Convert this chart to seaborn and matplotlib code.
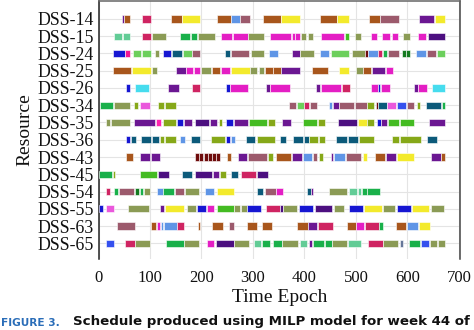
import matplotlib
matplotlib.use("Agg")
import matplotlib.pyplot as plt
import seaborn as sns
import pandas as pd

# Resources (antennas), listed top to bottom
resources = ["DSS-14", "DSS-15", "DSS-24", "DSS-25", "DSS-26", "DSS-34", "DSS-35",
             "DSS-36", "DSS-43", "DSS-45", "DSS-54", "DSS-55", "DSS-63", "DSS-65"]

# Scheduled tracks per resource: (start epoch, end epoch, mission)
dss_14 = [(46, 50, "purple"), (50, 61, "brown"), (85, 102, "crimson"), (141, 163, "brown"),
          (163, 198, "yellow"), (231, 258, "brown"), (258, 275, "cornflower"),
          (275, 294, "mauve"), (320, 355, "brown"), (355, 391, "yellow"), (430, 463, "brown"),
          (463, 487, "yellow"), (525, 547, "brown"), (547, 584, "mauve"), (623, 652, "purple"),
          (654, 673, "yellow")]
dss_15 = [(31, 46, "mint"), (47, 62, "mint"), (85, 101, "crimson"), (103, 131, "olive"),
          (159, 178, "green"), (179, 191, "green"), (194, 227, "olive"), (237, 260, "magenta"),
          (262, 290, "magenta"), (290, 321, "olive"), (334, 373, "magenta"), (375, 381, "magenta"),
          (382, 391, "magenta"), (393, 402, "olive"), (406, 417, "olive"), (432, 477, "magenta"),
          (478, 487, "green2"), (498, 509, "olive"), (529, 540, "magenta"), (550, 566, "magenta"),
          (569, 581, "magenta"), (592, 605, "olive"), (621, 636, "magenta"), (639, 673, "indigo")]
dss_24 = [(28, 52, "blue"), (52, 62, "pink"), (67, 83, "lightgreen"), (85, 101, "lightgreen"),
          (109, 117, "olive"), (126, 141, "blue"), (143, 163, "teal"), (165, 182, "lightgreen"),
          (182, 197, "mauve"), (246, 255, "teal"), (257, 292, "mauve"), (297, 321, "olive"),
          (332, 349, "cornflower"), (375, 391, "purple"), (391, 419, "olive"), (430, 448, "cornflower"),
          (452, 487, "lightgreen"), (493, 517, "olive"), (517, 524, "darkred"), (524, 543, "cornflower"),
          (543, 550, "crimson"), (552, 561, "green"), (562, 584, "mauve"), (590, 597, "darkgreen"),
          (598, 605, "darkgreen"), (616, 636, "cornflower"), (637, 655, "mauve"), (657, 673, "lightgreen")]
dss_25 = [(28, 63, "brown"), (65, 101, "yellow"), (103, 113, "olive"), (150, 169, "purple"),
          (170, 184, "magenta"), (185, 198, "magenta"), (200, 219, "olive"), (221, 236, "brown"),
          (237, 255, "magenta"), (257, 294, "yellow"), (295, 307, "olive"), (312, 321, "olive"),
          (323, 338, "brown"), (339, 354, "brown"), (355, 391, "purple"), (414, 445, "brown"),
          (467, 487, "yellow"), (501, 513, "olive"), (513, 529, "brown"), (532, 557, "purple"),
          (559, 572, "magenta")]
dss_26 = [(54, 61, "blue"), (70, 98, "cyan"), (135, 156, "purple"), (182, 197, "crimson"),
          (247, 255, "blue"), (255, 290, "magenta"), (326, 334, "purple"), (334, 372, "magenta"),
          (422, 430, "purple"), (432, 470, "magenta"), (472, 489, "crimson"), (529, 542, "magenta"),
          (542, 547, "blue"), (548, 566, "magenta"), (612, 620, "purple"), (621, 637, "magenta"),
          (647, 673, "cyan")]
dss_34 = [(2, 28, "green"), (31, 61, "olive"), (69, 77, "yellowgreen"), (80, 100, "orchid"),
          (116, 128, "yellowgreen"), (130, 150, "yellowgreen"), (370, 383, "mauve"),
          (385, 399, "lightgreen"), (400, 409, "crimson"), (411, 424, "mauve"), (448, 454, "cornflower"),
          (456, 467, "purple"), (467, 496, "mauve"), (498, 521, "mauve"), (522, 535, "yellowgreen"),
          (538, 543, "darkred"), (543, 560, "teal"), (561, 577, "orchid"), (579, 597, "royalblue"),
          (600, 613, "mauve"), (618, 625, "yellowgreen"), (636, 666, "teal"), (668, 673, "green")]
dss_35 = [(14, 23, "olive"), (25, 61, "olive"), (69, 109, "purple"), (111, 122, "deeppink"),
          (126, 150, "yellowgreen"), (152, 165, "blue"), (167, 182, "purple"), (187, 214, "indigo"),
          (216, 231, "purple"), (234, 239, "yellowgreen"), (247, 262, "blue"), (264, 290, "purple"),
          (292, 328, "green2"), (329, 342, "yellowgreen"), (357, 373, "purple"), (398, 424, "green2"),
          (426, 439, "yellowgreen"), (465, 502, "indigo"), (503, 521, "yellow"), (522, 535, "yellowgreen"),
          (540, 548, "blue"), (548, 561, "purple"), (562, 584, "green2"), (585, 613, "green2"),
          (642, 673, "purple")]
dss_36 = [(54, 61, "blue"), (64, 72, "teal"), (82, 101, "teal"), (103, 117, "teal"),
          (119, 128, "yellowgreen"), (130, 150, "yellowgreen"), (159, 168, "cornflower"),
          (179, 197, "teal"), (218, 245, "yellowgreen"), (247, 255, "blue"), (258, 266, "cornflower"),
          (286, 304, "teal"), (308, 342, "yellowgreen"), (352, 365, "teal"), (377, 398, "teal"),
          (399, 409, "teal"), (409, 426, "yellowgreen"), (428, 439, "yellowgreen"), (461, 482, "teal"),
          (484, 504, "teal"), (506, 535, "yellowgreen"), (569, 583, "yellowgreen"),
          (585, 626, "yellowgreen"), (638, 657, "teal")]
dss_43 = [(54, 67, "brown"), (80, 100, "purple"), (101, 119, "purple"), (187, 195, "darkred"),
          (196, 203, "darkred"), (204, 212, "darkred"), (213, 220, "darkred"), (221, 228, "darkred"),
          (229, 236, "darkred"), (249, 258, "brown"), (270, 289, "purple"), (290, 328, "mauve"),
          (329, 338, "yellowgreen"), (344, 373, "brown"), (375, 396, "purple"), (398, 415, "cornflower"),
          (417, 424, "mauve"), (428, 435, "yellowgreen"), (451, 456, "purple"), (457, 478, "cornflower"),
          (480, 509, "mauve"), (513, 521, "yellow"), (537, 557, "brown"), (558, 577, "purple"),
          (579, 613, "yellow"), (645, 665, "purple"), (666, 673, "brown")]
dss_45 = [(1, 26, "green"), (28, 33, "yellowgreen"), (80, 113, "green2"), (115, 137, "indigo"),
          (163, 182, "teal"), (187, 221, "indigo"), (222, 234, "purple"), (235, 247, "yellowgreen"),
          (257, 271, "teal"), (277, 305, "crimson"), (307, 329, "indigo")]
dss_54 = [(15, 23, "crimson"), (30, 37, "green"), (39, 69, "mauve"), (70, 78, "darkgreen"),
          (80, 87, "green"), (88, 100, "olive"), (114, 126, "cornflower"), (126, 146, "green"),
          (148, 166, "mauve"), (168, 195, "olive"), (207, 224, "cornflower"), (231, 263, "yellow"),
          (307, 320, "teal"), (323, 344, "mauve"), (345, 359, "magenta"), (404, 412, "teal"),
          (412, 417, "purple"), (448, 482, "olive"), (487, 502, "mint"), (503, 509, "mint"),
          (511, 521, "green"), (522, 547, "green")]
dss_55 = [(1, 9, "blue"), (14, 31, "orchid"), (58, 98, "olive"), (119, 128, "purple"),
          (130, 166, "yellow"), (172, 189, "olive"), (192, 208, "blue"), (210, 225, "magenta"),
          (231, 263, "green2"), (264, 275, "olive"), (276, 288, "olive"), (289, 316, "blue"),
          (325, 352, "crimson"), (352, 359, "indigo"), (359, 386, "olive"), (389, 417, "blue"),
          (420, 454, "indigo"), (457, 477, "olive"), (487, 513, "blue"), (516, 550, "yellow"),
          (553, 575, "olive"), (579, 607, "blue"), (609, 642, "yellow"), (645, 671, "olive")]
dss_63 = [(35, 70, "mauve"), (102, 111, "brown"), (113, 120, "magenta"), (122, 126, "cornflower"),
          (127, 152, "cornflower"), (152, 167, "crimson"), (193, 198, "brown"), (221, 241, "brown"),
          (253, 263, "mauve"), (289, 307, "brown"), (317, 336, "brown"), (385, 406, "brown"),
          (406, 425, "purple"), (426, 456, "crimson"), (482, 500, "brown"), (501, 516, "magenta"),
          (517, 544, "crimson"), (545, 552, "green"), (577, 597, "brown"), (599, 620, "cornflower"),
          (623, 644, "yellow")]
dss_65 = [(14, 31, "royalblue"), (52, 70, "crimson"), (70, 100, "olive"), (132, 167, "green"),
          (167, 195, "olive"), (210, 225, "magenta"), (229, 263, "indigo"), (264, 292, "olive"),
          (301, 316, "mint"), (318, 334, "green"), (338, 357, "green"), (357, 388, "olive"),
          (391, 404, "mint"), (408, 415, "purple"), (417, 437, "green"), (439, 454, "green"),
          (454, 482, "olive"), (485, 509, "mint"), (524, 552, "crimson"), (553, 581, "olive"),
          (585, 592, "slate"), (603, 625, "green"), (626, 642, "royalblue"), (644, 658, "olive"),
          (660, 673, "olive")]

tracks = [dss_14, dss_15, dss_24, dss_25, dss_26, dss_34, dss_35,
          dss_36, dss_43, dss_45, dss_54, dss_55, dss_63, dss_65]

# Colour of each mission
mission_colors = {
    "purple": "#6b1792", "indigo": "#4c0f80", "brown": "#a8561c", "crimson": "#cf2462",
    "yellow": "#f3ea2c", "cornflower": "#5f95e6", "mauve": "#9c5a6c", "mint": "#62cc96",
    "olive": "#8b9b55", "green": "#19b04a", "green2": "#44bb22", "magenta": "#e41ec4",
    "pink": "#f01596", "blue": "#1616d2", "lightgreen": "#6ccf5c", "yellowgreen": "#86a818",
    "teal": "#0c5a7a", "darkred": "#6e0c0c", "darkgreen": "#147a20", "royalblue": "#3450ee",
    "cyan": "#46dcee", "orchid": "#ea58dc", "deeppink": "#ff22b0", "slate": "#667799",
}

rows = []
for res, segs in zip(resources, tracks):
    for start, end, mission in segs:
        rows.append({"resource": res, "start": start, "end": end, "mission": mission})
df = pd.DataFrame(rows)
df["row"] = df["resource"].map({r: i for i, r in enumerate(resources)})

sns.set_theme(style="white")
plt.rcParams["font.family"] = ["Liberation Serif", "DejaVu Serif"]

fig = plt.figure(figsize=(4.74, 3.30), dpi=100)
ax = fig.add_axes([98.5 / 474, 1 - 259 / 330, (460 - 98.5) / 474, 258 / 330])

ax.barh(df["row"], df["end"] - df["start"], left=df["start"], height=0.42,
        color=df["mission"].map(mission_colors), edgecolor="white", linewidth=0.4, zorder=3)

ax.set_xlim(0, 702)
ax.set_ylim(13.91, -1.04)
ax.set_xticks(range(0, 701, 100))
ax.set_yticks(range(len(resources)))
ax.set_yticklabels(resources)
ax.grid(True, color="#e4e4e4", linewidth=0.8, zorder=0)
ax.set_axisbelow(True)
ax.tick_params(axis="both", length=0, colors="#111111")
ax.tick_params(axis="y", labelsize=12.8, pad=3.5)
ax.tick_params(axis="x", labelsize=12, pad=8)
ax.set_xlabel("Time Epoch", fontsize=14, color="#111111", labelpad=2)
ax.set_ylabel("Resource", fontsize=14, color="#111111", labelpad=3)

for side in ["left", "top", "right"]:
    ax.spines[side].set_visible(True)
    ax.spines[side].set_linewidth(1.1)
ax.spines["left"].set_color("#222222")
ax.spines["top"].set_color("#666666")
ax.spines["right"].set_color("#444444")
ax.spines["bottom"].set_visible(False)

# Figure caption along the bottom edge
fig.text(1 / 474, 1.5 / 330, "FIGURE 3.", color="#2a6db8", fontsize=7.6,
         fontweight="bold", family="DejaVu Sans", va="bottom", ha="left")
fig.text(73 / 474, 1.5 / 330, "Schedule produced using MILP model for week 44 of",
         color="#111111", fontsize=9.6, fontweight="bold", family="DejaVu Sans",
         va="bottom", ha="left")

fig.savefig("out.png", dpi=100)
